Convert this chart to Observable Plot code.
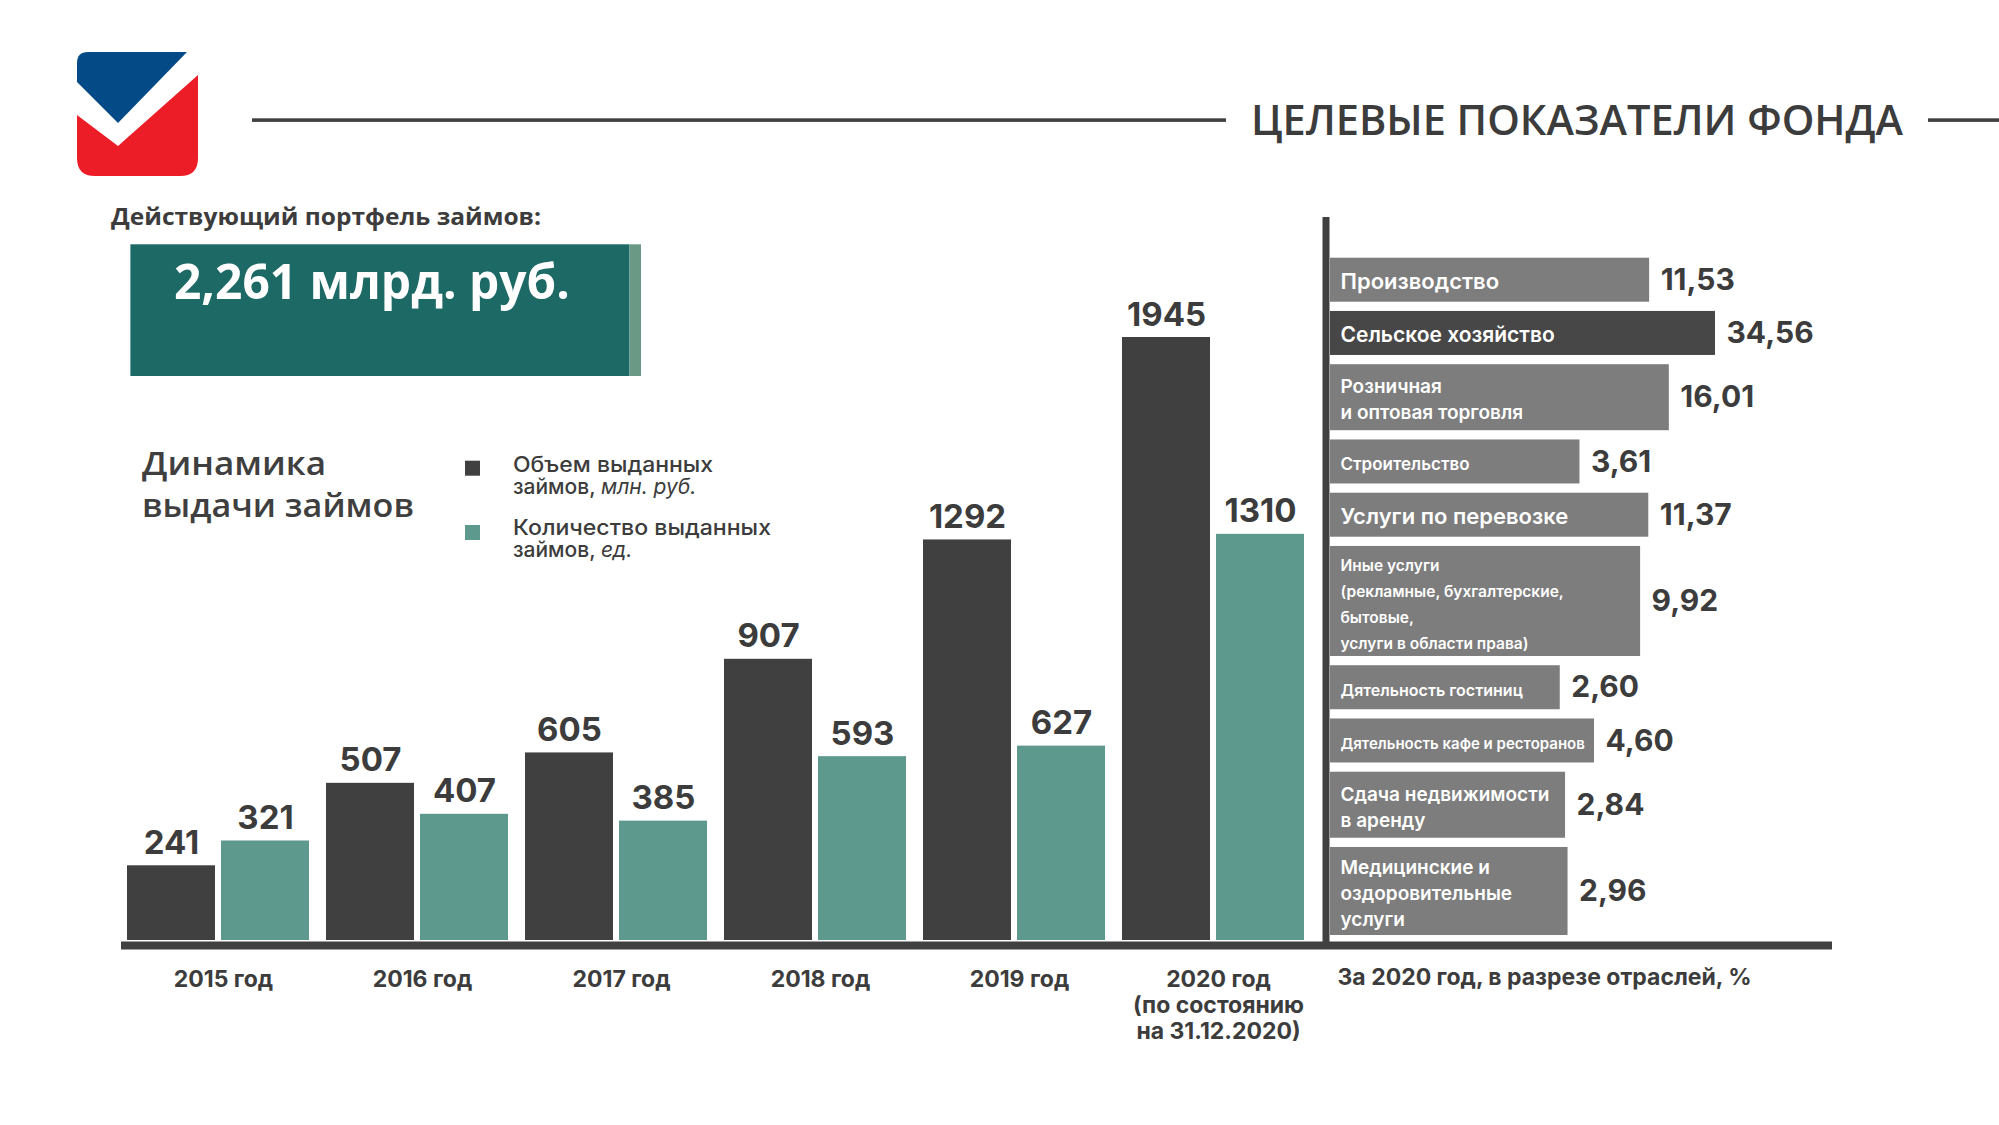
<!DOCTYPE html>
<html>
<head>
<meta charset="utf-8">
<script src="https://cdn.jsdelivr.net/npm/d3@7"></script>
<script src="https://cdn.jsdelivr.net/npm/@observablehq/plot@0.6"></script>
<style>
  body { margin: 0; background: #fff; }
  #page { position: relative; width: 1999px; height: 1125px; overflow: hidden; background: #fff; font-family: Inter, sans-serif; }
  #deco { position: absolute; left: 0; top: 0; }
</style>
</head>
<body>
<div id="page">
  <svg id="deco" width="1999" height="1125" xmlns="http://www.w3.org/2000/svg">
    <defs>
      <clipPath id="logoClip">
        <path d="M77,63 Q77,52 88,52 L198,52 L198,158 Q198,176 180,176 L95,176 Q77,176 77,158 Z"/>
      </clipPath>
    </defs>
    <g clip-path="url(#logoClip)">
      <path d="M77,52 L187,52 L118,123 L77,82 Z" fill="#034a86"/>
      <path d="M77,115 L118,146 L198,75 L198,176 L77,176 Z" fill="#ec1d27"/>
    </g>
    <rect x="252" y="118.3" width="974" height="3.6" fill="#404040"/>
    <rect x="1928" y="118.3" width="71" height="3.6" fill="#404040"/>
    <text x="1251" y="135" font-family="'Open Sans'" font-weight="600" font-size="41" fill="#3c3c3c" textLength="652" lengthAdjust="spacingAndGlyphs">ЦЕЛЕВЫЕ ПОКАЗАТЕЛИ ФОНДА</text>

    <text x="111" y="225" font-family="'Open Sans'" font-weight="700" font-size="24" fill="#3c3c3c" textLength="430" lengthAdjust="spacingAndGlyphs">Действующий портфель займов:</text>
    <rect x="130.4" y="244.3" width="499.1" height="131.7" fill="#1d6965"/>
    <rect x="629.5" y="244.3" width="11.5" height="131.7" fill="#6a9a85"/>
    <text x="174" y="299.3" font-family="'Open Sans'" font-weight="700" font-size="49" fill="#ffffff" textLength="396" lengthAdjust="spacingAndGlyphs">2,261 млрд. руб.</text>

    <text x="142" y="475" font-family="'Open Sans'" font-weight="600" font-size="32" fill="#3f3f3f" textLength="184" lengthAdjust="spacingAndGlyphs">Динамика</text>
    <text x="142" y="517" font-family="'Open Sans'" font-weight="600" font-size="32" fill="#3f3f3f" textLength="272" lengthAdjust="spacingAndGlyphs">выдачи займов</text>

    <rect x="465" y="460.7" width="15" height="15" fill="#404040"/>
    <rect x="465" y="525" width="15" height="15" fill="#5e998e"/>
    <g font-family="Inter" font-size="21" fill="#3c3c3c" font-weight="500">
      <text x="513" y="472" textLength="200" lengthAdjust="spacingAndGlyphs">Объем выданных</text>
      <text x="513" y="493.5">займов, <tspan font-style="italic" font-weight="400">млн. руб.</tspan></text>
      <text x="513" y="535" textLength="258" lengthAdjust="spacingAndGlyphs">Количество выданных</text>
      <text x="513" y="557">займов, <tspan font-style="italic" font-weight="400">ед.</tspan></text>
    </g>
  </svg>
</div>
<script>
// ---- Data ----
const years = [
  "2015 год", "2016 год", "2017 год", "2018 год", "2019 год",
  "2020 год\n(по состоянию\nна 31.12.2020)"
];
const loanVolume = [241, 507, 605, 907, 1292, 1945];   // Объем выданных займов, млн. руб.
const loanCount  = [321, 407, 385, 593, 627, 1310];    // Количество выданных займов, ед.

const sectors = [
  "Производство",
  "Сельское хозяйство",
  "Розничная\nи оптовая торговля",
  "Строительство",
  "Услуги по перевозке",
  "Иные услуги\n(рекламные, бухгалтерские,\nбытовые,\nуслуги в области права)",
  "Дятельность гостиниц",
  "Дятельность кафе и ресторанов",
  "Сдача недвижимости\nв аренду",
  "Медицинские и\nоздоровительные\nуслуги"
];
const sectorShares = [11.53, 34.56, 16.01, 3.61, 11.37, 9.92, 2.60, 4.60, 2.84, 2.96];
const sectorAxisLabel = "За 2020 год, в разрезе отраслей, %";

// ---- Styles ----
const DARK = "#404040", TEAL = "#5e998e", GRAY = "#7d7d7d", HIGHLIGHT = "#474747", INK = "#3c3c3c";
const sectorLabelSizes = [22, 21, 19, 17, 22, 15.5, 16, 15, 19, 19];
const svgStyle = "position:absolute;left:0;top:0;background:transparent;overflow:visible;max-width:none;font-family:Inter,sans-serif;";

// ---- Left chart: loan dynamics ----
const volData = years.map((y, i) => ({year: y, value: loanVolume[i]}));
const cntData = years.map((y, i) => ({year: y, value: loanCount[i]}));

const left = Plot.plot({
  width: 1999, height: 1125,
  marginLeft: 121, marginRight: 167, marginTop: 200, marginBottom: 180,
  style: svgStyle,
  x: {type: "band", domain: years, range: [116.7, 1314.3], paddingInner: 0.083, paddingOuter: 0.0415, axis: null},
  y: {domain: [0, 1945], range: [940, 337], axis: null},
  marks: [
    Plot.barY(volData, {x: "year", y: "value", fill: DARK, insetRight: 94}),
    Plot.barY(cntData, {x: "year", y: "value", fill: TEAL, insetLeft: 94}),
    Plot.text(volData, {x: "year", y: "value", text: d => String(d.value), dx: -47, dy: -12,
      lineAnchor: "bottom", fontSize: 33, fontWeight: 700, fill: INK, fontFamily: "Inter"}),
    Plot.text(cntData, {x: "year", y: "value", text: d => String(d.value), dx: 47, dy: -12,
      lineAnchor: "bottom", fontSize: 33, fontWeight: 700, fill: INK, fontFamily: "Inter"}),
    Plot.text(years, {x: d => d, text: d => d, frameAnchor: "bottom", lineAnchor: "top",
      dx: 5, dy: 23, lineHeight: 1.13, fontSize: 23, fontWeight: 700, fill: INK, fontFamily: "Inter"}),
    Plot.ruleY([0], {dy: 5, stroke: DARK, strokeWidth: 8})
  ]
});

// ---- Right chart: sector breakdown ----
const fmt = v => d3.format(".2f")(v).replace(".", ",");
const gap = 0.42;
let acc = 0;
const sectorData = sectors.map((s, i) => {
  const h = s.split("\n").length + 1;
  const d = {sector: s, share: sectorShares[i], y1: acc, y2: acc + h, size: sectorLabelSizes[i]};
  acc += h + gap;
  return d;
});
const yTotal = acc - gap;
const xMin = 0.0565;
const maxShare = d3.max(sectorShares);

const right = Plot.plot({
  width: 1999, height: 1125,
  marginLeft: 1325, marginRight: 200, marginTop: 217, marginBottom: 180,
  style: svgStyle,
  x: {type: "log", domain: [xMin, maxShare], range: [1330, 1715], axis: null},
  y: {domain: [0, yTotal], range: [257.7, 935], axis: null},
  marks: [
    Plot.rect(sectorData, {x1: () => xMin, x2: "share", y1: "y1", y2: "y2",
      fill: d => d.share === maxShare ? HIGHLIGHT : GRAY}),
    Plot.text(sectorData, {x: "share", y: d => (d.y1 + d.y2) / 2, text: d => fmt(d.share),
      dx: 11, textAnchor: "start", lineAnchor: "middle", fontSize: 30, fontWeight: 700, fill: INK, fontFamily: "Inter"}),
    ...sectorData.map(d => Plot.text([d], {x: () => xMin, y: e => (e.y1 + e.y2) / 2, text: "sector",
      dx: 10, textAnchor: "start", lineAnchor: "middle", fontSize: d.size, lineHeight: 26 / d.size,
      fontWeight: 600, fill: "#ffffff", fontFamily: "Inter"})),
    Plot.ruleX([xMin], {dx: -4.5, stroke: DARK, strokeWidth: 7}),
    Plot.text([sectorAxisLabel], {x: () => xMin, text: d => d, frameAnchor: "bottom", textAnchor: "start",
      lineAnchor: "top", dx: 7, dy: 23, fontSize: 23, fontWeight: 700, fill: INK, fontFamily: "Inter"})
  ]
});

const page = document.getElementById("page");
page.appendChild(left);
page.appendChild(right);
</script>
</body>
</html>
